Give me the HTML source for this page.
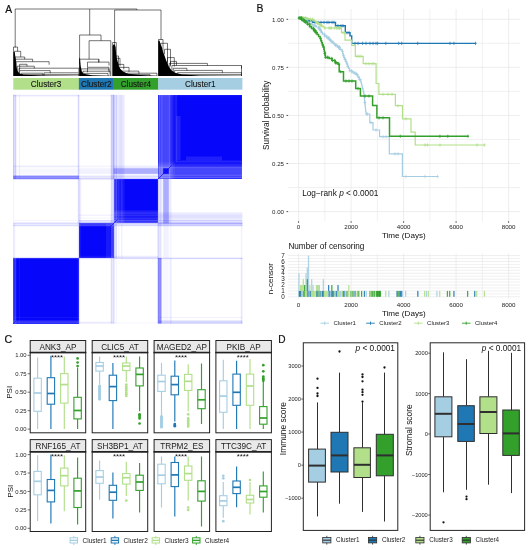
<!DOCTYPE html>
<html lang="en"><head><meta charset="utf-8"><title>Figure</title>
<style>
html,body{margin:0;padding:0;background:#fff;}
body{width:531px;height:550px;overflow:hidden;}
svg{display:block;font-family:"Liberation Sans",sans-serif;}
</style></head><body>
<svg width="531" height="550" viewBox="0 0 531 550">
<rect width="531" height="550" fill="#fff"/>
<g id="panelA">
<text x="5.2" y="12.6" font-size="10.3" fill="#111" stroke="#111" stroke-width="0.2">A</text>
<path d="M15.2 9H89.7M89.7 9H137M137 9V10M114.6 10H161M15.2 9V47.5M89.7 9V35M114.6 10V43.7M161 10V39.6M13.5 47H17.6M13.5 47V76M17.6 47V51.3M14.5 51.3H20.7M20.7 51.3V57M14.5 51.3V76M15.1 57H24.7M24.7 57V59.2M15.1 57V63M15.6 59.2H32.6M32.6 59.2V61.7M15.6 59.2V65.2M16.2 61.7H49.1M49.1 61.7V64.7M16.2 61.7V67.7M19.6 64.3H27M27 64.3V66.3M19.6 64.3V70.3M17.3 66.2H34.3M34.3 66.2V68.4M17.3 66.2V72.2M19 68.2H78.9M78.9 68.2V72.2M19 68.2V74.2M19.6 70.6H50.2M50.2 70.6V73.2M19.6 70.6V76M21.3 73.2H42.8M42.8 73.2V75.2M21.3 73.2V76M44 72.8H78.9M78.9 72.8V75.8M44 72.8V76M22 74.6H78.9M78.9 74.6V76M22 74.6V76M79.6 35H101M79.6 35V76M101 35V40.7M89.1 40.7H110.8M89.1 40.7V59.2M110.8 40.7V76M79.6 59.2H98.8M98.8 59.2V62.7M79.6 59.2V64.2M87.5 62.1H109M109 62.1V65.6M87.5 62.1V67.1M87.5 67.3H109M109 67.3V70.8M87.5 67.3V72.3M80.7 68.9H109M109 68.9V72.4M80.7 68.9V73.9M83 71.2H110M110 71.2V74.7M83 71.2V76M84 73.4H108M108 73.4V76M84 73.4V76M98.8 59.2V62.1M112.6 42.5H116.3M112.6 42.5V76M116.3 42.5V58M114.8 56H118.5M118.5 56V65M114.8 56V61M116.3 58.3H120M120 58.3V66.3M116.3 58.3V63.3M117.8 64.4H123.8M123.8 64.4V69.4M117.8 64.4V69.4M119.5 67.4H129M129 67.4V71.9M119.5 67.4V72.4M122 71.1H138.9M138.9 71.1V74.1M122 71.1V76M127 73.2H156.9M156.9 73.2V75.8M127 73.2V76M130 74.6H150M150 74.6V76M130 74.6V76M158.5 39.5H163M158.5 39.5V76M163 39.5V60M160.7 43.3H167.5M167.5 43.3V65.3M160.7 43.3V48.3M164.5 49.3H170.5M170.5 49.3V65.3M164.5 49.3V54.3M167.5 57.6H174.3M174.3 57.6V66.6M167.5 57.6V62.6M170.5 61.4H176.5M176.5 61.4V65.4M170.5 61.4V66.4M169.2 63.4H207.4M207.4 63.4V65.6M169.2 63.4V68.4M171.9 65.5H241.5M241.5 65.5V68.5M171.9 65.5V70.5M173.3 68.3H186.9M186.9 68.3V70.7M173.3 68.3V73.3M174.6 70.4H222.4M222.4 70.4V72.8M174.6 70.4V75.4M177.4 72.7H241.5M241.5 72.7V74.7M177.4 72.7V76M178.8 74.6H241.5M241.5 74.6V76M178.8 74.6V76M241.5 65.5V76" fill="none" stroke="#000" stroke-width="0.55"/>
<polygon points="13.5,52 14.6,52 15.6,58 16.3,66 17.5,71 19.5,73.4 24,74.7 45,75.4 78.9,75.7 78.9,76 13.5,76" fill="#000"/>
<polygon points="79.3,57 80,59 80.7,66 81.7,71.3 83.6,73.8 92,75.2 111,75.7 111,76 79.3,76" fill="#000"/>
<polygon points="112.6,46 114.4,43.5 115.6,47 116.3,56 117.4,60.5 118.6,65 120,68.5 123,71.6 128,73.7 140,75 157.5,75.7 157.5,76 112.6,76" fill="#000"/>
<polygon points="158.3,41 159.5,40.5 160.5,44 162,47.5 163,52 164.5,55.5 166,60 167.5,63.5 169,67 171.5,70.2 175,72.7 182,74.5 200,75.4 241.5,75.7 241.5,76 158.3,76" fill="#000"/>
<rect x="13.3" y="78" width="65.8" height="11.7" fill="#B2DF8A"/>
<text x="46.1" y="86.8" font-size="8.2" fill="#161616" text-anchor="middle" stroke="#161616" stroke-width="0.12">Cluster3</text>
<rect x="78.9" y="78" width="35" height="11.7" fill="#1F78B4"/>
<text x="96.3" y="86.8" font-size="8.2" fill="#161616" text-anchor="middle" stroke="#161616" stroke-width="0.12">Cluster2</text>
<rect x="113.7" y="78" width="44.7" height="11.7" fill="#33A02C"/>
<text x="135.95" y="86.8" font-size="8.2" fill="#161616" text-anchor="middle" stroke="#161616" stroke-width="0.12">Cluster4</text>
<rect x="158.2" y="78" width="84.2" height="11.7" fill="#A6CEE3"/>
<text x="200.3" y="86.8" font-size="8.2" fill="#161616" text-anchor="middle" stroke="#161616" stroke-width="0.12">Cluster1</text>
<g shape-rendering="crispEdges">
<rect x="13.3" y="94.8" width="229.1" height="228.7" fill="#fff"/>
<rect x="158.2" y="94.8" width="84.2" height="84.05" fill="#0606fb" fill-opacity="1"/>
<rect x="78.9" y="223.28" width="34.8" height="34.74" fill="#0606fb" fill-opacity="1"/>
<rect x="13.3" y="258.01" width="65.6" height="65.49" fill="#0606fb" fill-opacity="1"/>
<rect x="113.7" y="178.85" width="44.5" height="44.42" fill="#0606fb" fill-opacity="1"/>
</g>
<rect x="158.2" y="94.8" width="1" height="84.05" fill="#fff" fill-opacity="0.2"/>
<rect x="158.2" y="177.85" width="84.2" height="1" fill="#fff" fill-opacity="0.2"/>
<rect x="159.2" y="94.8" width="1" height="84.05" fill="#fff" fill-opacity="0.38"/>
<rect x="158.2" y="176.86" width="84.2" height="1" fill="#fff" fill-opacity="0.38"/>
<rect x="160.2" y="94.8" width="1.2" height="84.05" fill="#fff" fill-opacity="0.24"/>
<rect x="158.2" y="175.66" width="84.2" height="1.2" fill="#fff" fill-opacity="0.24"/>
<rect x="161.4" y="94.8" width="1" height="84.05" fill="#fff" fill-opacity="0.42"/>
<rect x="158.2" y="174.66" width="84.2" height="1" fill="#fff" fill-opacity="0.42"/>
<rect x="162.4" y="94.8" width="0.8" height="84.05" fill="#fff" fill-opacity="0.28"/>
<rect x="158.2" y="173.86" width="84.2" height="0.8" fill="#fff" fill-opacity="0.28"/>
<rect x="163.2" y="94.8" width="5.6" height="84.05" fill="#fff" fill-opacity="0.26"/>
<rect x="158.2" y="168.27" width="84.2" height="5.59" fill="#fff" fill-opacity="0.26"/>
<rect x="168.8" y="94.8" width="1" height="84.05" fill="#fff" fill-opacity="0.4"/>
<rect x="158.2" y="167.27" width="84.2" height="1" fill="#fff" fill-opacity="0.4"/>
<rect x="169.8" y="94.8" width="1.7" height="84.05" fill="#fff" fill-opacity="0.2"/>
<rect x="158.2" y="165.58" width="84.2" height="1.7" fill="#fff" fill-opacity="0.2"/>
<rect x="171.5" y="94.8" width="1.9" height="84.05" fill="#fff" fill-opacity="0.12"/>
<rect x="158.2" y="163.68" width="84.2" height="1.9" fill="#fff" fill-opacity="0.12"/>
<rect x="173.4" y="94.8" width="1.8" height="84.05" fill="#fff" fill-opacity="0.05"/>
<rect x="158.2" y="161.88" width="84.2" height="1.8" fill="#fff" fill-opacity="0.05"/>
<rect x="240.8" y="94.8" width="1.6" height="84.05" fill="#fff" fill-opacity="0.05"/>
<rect x="158.2" y="94.8" width="84.2" height="1.6" fill="#fff" fill-opacity="0.05"/>
<rect x="78.9" y="223.28" width="1.1" height="34.74" fill="#fff" fill-opacity="0.12"/>
<rect x="78.9" y="256.92" width="34.8" height="1.1" fill="#fff" fill-opacity="0.12"/>
<rect x="80" y="223.28" width="1.2" height="34.74" fill="#fff" fill-opacity="0.05"/>
<rect x="78.9" y="255.72" width="34.8" height="1.2" fill="#fff" fill-opacity="0.05"/>
<rect x="110.8" y="223.28" width="0.9" height="34.74" fill="#fff" fill-opacity="0.28"/>
<rect x="78.9" y="225.27" width="34.8" height="0.9" fill="#fff" fill-opacity="0.28"/>
<rect x="111.7" y="223.28" width="1" height="34.74" fill="#fff" fill-opacity="0.16"/>
<rect x="78.9" y="224.27" width="34.8" height="1" fill="#fff" fill-opacity="0.16"/>
<rect x="112.7" y="223.28" width="1" height="34.74" fill="#fff" fill-opacity="0.4"/>
<rect x="78.9" y="223.28" width="34.8" height="1" fill="#fff" fill-opacity="0.4"/>
<rect x="13.3" y="258.01" width="0.9" height="65.49" fill="#fff" fill-opacity="0.34"/>
<rect x="13.3" y="322.6" width="65.6" height="0.9" fill="#fff" fill-opacity="0.34"/>
<rect x="14.2" y="258.01" width="1" height="65.49" fill="#fff" fill-opacity="0.12"/>
<rect x="13.3" y="321.6" width="65.6" height="1" fill="#fff" fill-opacity="0.12"/>
<rect x="15.2" y="258.01" width="1" height="65.49" fill="#fff" fill-opacity="0.24"/>
<rect x="13.3" y="320.61" width="65.6" height="1" fill="#fff" fill-opacity="0.24"/>
<rect x="19" y="258.01" width="0.8" height="65.49" fill="#fff" fill-opacity="0.08"/>
<rect x="13.3" y="317.01" width="65.6" height="0.8" fill="#fff" fill-opacity="0.08"/>
<rect x="77.8" y="258.01" width="1.1" height="65.49" fill="#fff" fill-opacity="0.16"/>
<rect x="13.3" y="258.01" width="65.6" height="1.1" fill="#fff" fill-opacity="0.16"/>
<rect x="113.7" y="178.85" width="1" height="44.42" fill="#fff" fill-opacity="0.34"/>
<rect x="113.7" y="222.28" width="44.5" height="1" fill="#fff" fill-opacity="0.34"/>
<rect x="114.7" y="178.85" width="1.1" height="44.42" fill="#fff" fill-opacity="0.18"/>
<rect x="113.7" y="221.18" width="44.5" height="1.1" fill="#fff" fill-opacity="0.18"/>
<rect x="115.8" y="178.85" width="1.1" height="44.42" fill="#fff" fill-opacity="0.3"/>
<rect x="113.7" y="220.08" width="44.5" height="1.1" fill="#fff" fill-opacity="0.3"/>
<rect x="116.9" y="178.85" width="1.5" height="44.42" fill="#fff" fill-opacity="0.12"/>
<rect x="113.7" y="218.58" width="44.5" height="1.5" fill="#fff" fill-opacity="0.12"/>
<rect x="118.4" y="178.85" width="0.9" height="44.42" fill="#fff" fill-opacity="0.2"/>
<rect x="113.7" y="217.69" width="44.5" height="0.9" fill="#fff" fill-opacity="0.2"/>
<rect x="119.3" y="178.85" width="1.7" height="44.42" fill="#fff" fill-opacity="0.08"/>
<rect x="113.7" y="215.99" width="44.5" height="1.7" fill="#fff" fill-opacity="0.08"/>
<rect x="121" y="178.85" width="1.5" height="44.42" fill="#fff" fill-opacity="0.16"/>
<rect x="113.7" y="214.49" width="44.5" height="1.5" fill="#fff" fill-opacity="0.16"/>
<rect x="122.5" y="178.85" width="2.1" height="44.42" fill="#fff" fill-opacity="0.07"/>
<rect x="113.7" y="212.39" width="44.5" height="2.1" fill="#fff" fill-opacity="0.07"/>
<rect x="157" y="178.85" width="1.2" height="44.42" fill="#fff" fill-opacity="0.07"/>
<rect x="113.7" y="178.85" width="44.5" height="1.2" fill="#fff" fill-opacity="0.07"/>
<rect x="163.2" y="168.27" width="5.6" height="5.59" fill="#0606fb" fill-opacity="0.92"/>
<rect x="176" y="116" width="4.5" height="44" fill="#fff" fill-opacity="0.1"/>
<rect x="186" y="156.5" width="36" height="4" fill="#fff" fill-opacity="0.1"/>
<rect x="176" y="160.5" width="66.5" height="1.7" fill="#fff" fill-opacity="0.12"/>
<rect x="175.2" y="94.5" width="2" height="67.5" fill="#fff" fill-opacity="0.1"/>
<rect x="113.7" y="210.5" width="44.5" height="3.5" fill="#fff" fill-opacity="0.1"/>
<rect x="106" y="223.28" width="4" height="34.74" fill="#fff" fill-opacity="0.08"/>
<rect x="158.2" y="178.85" width="1" height="44.42" fill="#0606fb" fill-opacity="0.22"/>
<rect x="113.7" y="177.85" width="44.5" height="1" fill="#0606fb" fill-opacity="0.22"/>
<rect x="158.2" y="223.28" width="1" height="34.74" fill="#0606fb" fill-opacity="0.18"/>
<rect x="78.9" y="177.85" width="34.8" height="1" fill="#0606fb" fill-opacity="0.18"/>
<rect x="158.2" y="258.01" width="1" height="65.49" fill="#0606fb" fill-opacity="0.6"/>
<rect x="13.3" y="177.85" width="65.6" height="1" fill="#0606fb" fill-opacity="0.6"/>
<rect x="159.2" y="178.85" width="1" height="44.42" fill="#0606fb" fill-opacity="0.08"/>
<rect x="113.7" y="176.86" width="44.5" height="1" fill="#0606fb" fill-opacity="0.08"/>
<rect x="159.2" y="223.28" width="1" height="34.74" fill="#0606fb" fill-opacity="0.08"/>
<rect x="78.9" y="176.86" width="34.8" height="1" fill="#0606fb" fill-opacity="0.08"/>
<rect x="159.2" y="258.01" width="1" height="65.49" fill="#0606fb" fill-opacity="0.45"/>
<rect x="13.3" y="176.86" width="65.6" height="1" fill="#0606fb" fill-opacity="0.45"/>
<rect x="160.2" y="178.85" width="1.2" height="44.42" fill="#0606fb" fill-opacity="0.16"/>
<rect x="113.7" y="175.66" width="44.5" height="1.2" fill="#0606fb" fill-opacity="0.16"/>
<rect x="160.2" y="223.28" width="1.2" height="34.74" fill="#0606fb" fill-opacity="0.12"/>
<rect x="78.9" y="175.66" width="34.8" height="1.2" fill="#0606fb" fill-opacity="0.12"/>
<rect x="160.2" y="258.01" width="1.2" height="65.49" fill="#0606fb" fill-opacity="0.52"/>
<rect x="13.3" y="175.66" width="65.6" height="1.2" fill="#0606fb" fill-opacity="0.52"/>
<rect x="161.4" y="178.85" width="1" height="44.42" fill="#0606fb" fill-opacity="0.05"/>
<rect x="113.7" y="174.66" width="44.5" height="1" fill="#0606fb" fill-opacity="0.05"/>
<rect x="161.4" y="258.01" width="1" height="65.49" fill="#0606fb" fill-opacity="0.06"/>
<rect x="13.3" y="174.66" width="65.6" height="1" fill="#0606fb" fill-opacity="0.06"/>
<rect x="162.4" y="178.85" width="0.8" height="44.42" fill="#0606fb" fill-opacity="0.05"/>
<rect x="113.7" y="173.86" width="44.5" height="0.8" fill="#0606fb" fill-opacity="0.05"/>
<rect x="163.2" y="178.85" width="5.6" height="44.42" fill="#0606fb" fill-opacity="0.33"/>
<rect x="113.7" y="168.27" width="44.5" height="5.59" fill="#0606fb" fill-opacity="0.33"/>
<rect x="163.2" y="223.28" width="5.6" height="34.74" fill="#0606fb" fill-opacity="0.05"/>
<rect x="78.9" y="168.27" width="34.8" height="5.59" fill="#0606fb" fill-opacity="0.05"/>
<rect x="163.2" y="258.01" width="5.6" height="65.49" fill="#0606fb" fill-opacity="0.03"/>
<rect x="13.3" y="168.27" width="65.6" height="5.59" fill="#0606fb" fill-opacity="0.03"/>
<rect x="168.8" y="178.85" width="1" height="44.42" fill="#0606fb" fill-opacity="0.08"/>
<rect x="113.7" y="167.27" width="44.5" height="1" fill="#0606fb" fill-opacity="0.08"/>
<rect x="169.8" y="178.85" width="1.7" height="44.42" fill="#0606fb" fill-opacity="0.07"/>
<rect x="113.7" y="165.58" width="44.5" height="1.7" fill="#0606fb" fill-opacity="0.07"/>
<rect x="169.8" y="258.01" width="1.7" height="65.49" fill="#0606fb" fill-opacity="0.08"/>
<rect x="13.3" y="165.58" width="65.6" height="1.7" fill="#0606fb" fill-opacity="0.08"/>
<rect x="169.8" y="223.28" width="1.7" height="34.74" fill="#0606fb" fill-opacity="0.04"/>
<rect x="78.9" y="165.58" width="34.8" height="1.7" fill="#0606fb" fill-opacity="0.04"/>
<rect x="240.8" y="258.01" width="1.6" height="65.49" fill="#0606fb" fill-opacity="0.1"/>
<rect x="13.3" y="94.8" width="65.6" height="1.6" fill="#0606fb" fill-opacity="0.1"/>
<rect x="240.8" y="223.28" width="1.6" height="34.74" fill="#0606fb" fill-opacity="0.05"/>
<rect x="78.9" y="94.8" width="34.8" height="1.6" fill="#0606fb" fill-opacity="0.05"/>
<rect x="78.9" y="178.85" width="1.1" height="44.42" fill="#0606fb" fill-opacity="0.14"/>
<rect x="113.7" y="256.92" width="44.5" height="1.1" fill="#0606fb" fill-opacity="0.14"/>
<rect x="78.9" y="258.01" width="1.1" height="65.49" fill="#0606fb" fill-opacity="0.1"/>
<rect x="13.3" y="256.92" width="65.6" height="1.1" fill="#0606fb" fill-opacity="0.1"/>
<rect x="78.9" y="94.8" width="1.1" height="84.05" fill="#0606fb" fill-opacity="0.05"/>
<rect x="158.2" y="256.92" width="84.2" height="1.1" fill="#0606fb" fill-opacity="0.05"/>
<rect x="80" y="178.85" width="1.2" height="44.42" fill="#0606fb" fill-opacity="0.07"/>
<rect x="113.7" y="255.72" width="44.5" height="1.2" fill="#0606fb" fill-opacity="0.07"/>
<rect x="110.8" y="178.85" width="0.9" height="44.42" fill="#0606fb" fill-opacity="0.18"/>
<rect x="113.7" y="225.27" width="44.5" height="0.9" fill="#0606fb" fill-opacity="0.18"/>
<rect x="110.8" y="258.01" width="0.9" height="65.49" fill="#0606fb" fill-opacity="0.18"/>
<rect x="13.3" y="225.27" width="65.6" height="0.9" fill="#0606fb" fill-opacity="0.18"/>
<rect x="110.8" y="94.8" width="0.9" height="84.05" fill="#0606fb" fill-opacity="0.26"/>
<rect x="158.2" y="225.27" width="84.2" height="0.9" fill="#0606fb" fill-opacity="0.26"/>
<rect x="111.7" y="178.85" width="1" height="44.42" fill="#0606fb" fill-opacity="0.08"/>
<rect x="113.7" y="224.27" width="44.5" height="1" fill="#0606fb" fill-opacity="0.08"/>
<rect x="111.7" y="94.8" width="1" height="84.05" fill="#0606fb" fill-opacity="0.12"/>
<rect x="158.2" y="224.27" width="84.2" height="1" fill="#0606fb" fill-opacity="0.12"/>
<rect x="111.7" y="258.01" width="1" height="65.49" fill="#0606fb" fill-opacity="0.05"/>
<rect x="13.3" y="224.27" width="65.6" height="1" fill="#0606fb" fill-opacity="0.05"/>
<rect x="112.7" y="178.85" width="1" height="44.42" fill="#0606fb" fill-opacity="0.28"/>
<rect x="113.7" y="223.28" width="44.5" height="1" fill="#0606fb" fill-opacity="0.28"/>
<rect x="112.7" y="94.8" width="1" height="84.05" fill="#0606fb" fill-opacity="0.38"/>
<rect x="158.2" y="223.28" width="84.2" height="1" fill="#0606fb" fill-opacity="0.38"/>
<rect x="112.7" y="258.01" width="1" height="65.49" fill="#0606fb" fill-opacity="0.16"/>
<rect x="13.3" y="223.28" width="65.6" height="1" fill="#0606fb" fill-opacity="0.16"/>
<rect x="13.3" y="94.8" width="0.9" height="84.05" fill="#0606fb" fill-opacity="0.3"/>
<rect x="158.2" y="322.6" width="84.2" height="0.9" fill="#0606fb" fill-opacity="0.3"/>
<rect x="13.3" y="223.28" width="0.9" height="34.74" fill="#0606fb" fill-opacity="0.12"/>
<rect x="78.9" y="322.6" width="34.8" height="0.9" fill="#0606fb" fill-opacity="0.12"/>
<rect x="13.3" y="178.85" width="0.9" height="44.42" fill="#0606fb" fill-opacity="0.05"/>
<rect x="113.7" y="322.6" width="44.5" height="0.9" fill="#0606fb" fill-opacity="0.05"/>
<rect x="14.2" y="94.8" width="1" height="84.05" fill="#0606fb" fill-opacity="0.1"/>
<rect x="158.2" y="321.6" width="84.2" height="1" fill="#0606fb" fill-opacity="0.1"/>
<rect x="14.2" y="223.28" width="1" height="34.74" fill="#0606fb" fill-opacity="0.06"/>
<rect x="78.9" y="321.6" width="34.8" height="1" fill="#0606fb" fill-opacity="0.06"/>
<rect x="15.2" y="94.8" width="1" height="84.05" fill="#0606fb" fill-opacity="0.2"/>
<rect x="158.2" y="320.61" width="84.2" height="1" fill="#0606fb" fill-opacity="0.2"/>
<rect x="19" y="94.8" width="0.8" height="84.05" fill="#0606fb" fill-opacity="0.08"/>
<rect x="158.2" y="317.01" width="84.2" height="0.8" fill="#0606fb" fill-opacity="0.08"/>
<rect x="77.8" y="94.8" width="1.1" height="84.05" fill="#0606fb" fill-opacity="0.18"/>
<rect x="158.2" y="258.01" width="84.2" height="1.1" fill="#0606fb" fill-opacity="0.18"/>
<rect x="77.8" y="178.85" width="1.1" height="44.42" fill="#0606fb" fill-opacity="0.15"/>
<rect x="113.7" y="258.01" width="44.5" height="1.1" fill="#0606fb" fill-opacity="0.15"/>
<rect x="77.8" y="223.28" width="1.1" height="34.74" fill="#0606fb" fill-opacity="0.12"/>
<rect x="78.9" y="258.01" width="34.8" height="1.1" fill="#0606fb" fill-opacity="0.12"/>
<rect x="113.7" y="223.28" width="1" height="34.74" fill="#0606fb" fill-opacity="0.26"/>
<rect x="78.9" y="222.28" width="34.8" height="1" fill="#0606fb" fill-opacity="0.26"/>
<rect x="113.7" y="258.01" width="1" height="65.49" fill="#0606fb" fill-opacity="0.1"/>
<rect x="13.3" y="222.28" width="65.6" height="1" fill="#0606fb" fill-opacity="0.1"/>
<rect x="113.7" y="94.8" width="1" height="84.05" fill="#0606fb" fill-opacity="0.26"/>
<rect x="158.2" y="222.28" width="84.2" height="1" fill="#0606fb" fill-opacity="0.26"/>
<rect x="114.7" y="223.28" width="1.1" height="34.74" fill="#0606fb" fill-opacity="0.1"/>
<rect x="78.9" y="221.18" width="34.8" height="1.1" fill="#0606fb" fill-opacity="0.1"/>
<rect x="114.7" y="94.8" width="1.1" height="84.05" fill="#0606fb" fill-opacity="0.1"/>
<rect x="158.2" y="221.18" width="84.2" height="1.1" fill="#0606fb" fill-opacity="0.1"/>
<rect x="115.8" y="223.28" width="1.1" height="34.74" fill="#0606fb" fill-opacity="0.16"/>
<rect x="78.9" y="220.08" width="34.8" height="1.1" fill="#0606fb" fill-opacity="0.16"/>
<rect x="115.8" y="94.8" width="1.1" height="84.05" fill="#0606fb" fill-opacity="0.2"/>
<rect x="158.2" y="220.08" width="84.2" height="1.1" fill="#0606fb" fill-opacity="0.2"/>
<rect x="115.8" y="258.01" width="1.1" height="65.49" fill="#0606fb" fill-opacity="0.04"/>
<rect x="13.3" y="220.08" width="65.6" height="1.1" fill="#0606fb" fill-opacity="0.04"/>
<rect x="116.9" y="94.8" width="1.5" height="84.05" fill="#0606fb" fill-opacity="0.08"/>
<rect x="158.2" y="218.58" width="84.2" height="1.5" fill="#0606fb" fill-opacity="0.08"/>
<rect x="118.4" y="94.8" width="0.9" height="84.05" fill="#0606fb" fill-opacity="0.1"/>
<rect x="158.2" y="217.69" width="84.2" height="0.9" fill="#0606fb" fill-opacity="0.1"/>
<rect x="118.4" y="223.28" width="0.9" height="34.74" fill="#0606fb" fill-opacity="0.06"/>
<rect x="78.9" y="217.69" width="34.8" height="0.9" fill="#0606fb" fill-opacity="0.06"/>
<rect x="119.3" y="94.8" width="1.7" height="84.05" fill="#0606fb" fill-opacity="0.12"/>
<rect x="158.2" y="215.99" width="84.2" height="1.7" fill="#0606fb" fill-opacity="0.12"/>
<rect x="121" y="94.8" width="1.5" height="84.05" fill="#0606fb" fill-opacity="0.12"/>
<rect x="158.2" y="214.49" width="84.2" height="1.5" fill="#0606fb" fill-opacity="0.12"/>
<rect x="121" y="223.28" width="1.5" height="34.74" fill="#0606fb" fill-opacity="0.05"/>
<rect x="78.9" y="214.49" width="34.8" height="1.5" fill="#0606fb" fill-opacity="0.05"/>
<rect x="122.5" y="94.8" width="2.1" height="84.05" fill="#0606fb" fill-opacity="0.08"/>
<rect x="158.2" y="212.39" width="84.2" height="2.1" fill="#0606fb" fill-opacity="0.08"/>
<rect x="157" y="258.01" width="1.2" height="65.49" fill="#0606fb" fill-opacity="0.12"/>
<rect x="13.3" y="178.85" width="65.6" height="1.2" fill="#0606fb" fill-opacity="0.12"/>
<rect x="157" y="223.28" width="1.2" height="34.74" fill="#0606fb" fill-opacity="0.08"/>
<rect x="78.9" y="178.85" width="34.8" height="1.2" fill="#0606fb" fill-opacity="0.08"/>
<line x1="158.2" y1="178.85" x2="171.5" y2="165.58" stroke="#0606fb" stroke-width="0.9" stroke-opacity=".8"/>
<line x1="113.7" y1="223.28" x2="117" y2="219.98" stroke="#0606fb" stroke-width="0.9" stroke-opacity=".8"/>
<line x1="110.8" y1="226.17" x2="113.7" y2="223.28" stroke="#0606fb" stroke-width="0.9" stroke-opacity=".8"/>
<line x1="13.3" y1="323.5" x2="16.2" y2="320.61" stroke="#0606fb" stroke-width="0.9" stroke-opacity=".8"/>
</g>
<g id="panelB">
<text x="256.5" y="12.4" font-size="10.4" fill="#111" stroke="#111" stroke-width="0.2">B</text>
<path d="M324.85 8.98V221.22M377.35 8.98V221.22M429.85 8.98V221.22M482.35 8.98V221.22M288.1 187.56H520M288.1 139.49H520M288.1 91.41H520M288.1 43.34H520" stroke="#eaeaea" stroke-width="0.65" fill="none"/>
<path d="M298.6 8.98V221.22M351.1 8.98V221.22M403.6 8.98V221.22M456.1 8.98V221.22M508.6 8.98V221.22M288.1 211.6H520M288.1 163.52H520M288.1 115.45H520M288.1 67.37H520M288.1 19.3H520" stroke="#e6e6e6" stroke-width="0.7" fill="none"/>
<text x="284" y="213.9" font-size="6.15" fill="#222" text-anchor="end">0.00</text>
<text x="284" y="165.82" font-size="6.15" fill="#222" text-anchor="end">0.25</text>
<text x="284" y="117.75" font-size="6.15" fill="#222" text-anchor="end">0.50</text>
<text x="284" y="69.67" font-size="6.15" fill="#222" text-anchor="end">0.75</text>
<text x="284" y="21.6" font-size="6.15" fill="#222" text-anchor="end">1.00</text>
<text x="298.6" y="229.22" font-size="6.2" fill="#222" text-anchor="middle">0</text>
<text x="351.1" y="229.22" font-size="6.2" fill="#222" text-anchor="middle">2000</text>
<text x="403.6" y="229.22" font-size="6.2" fill="#222" text-anchor="middle">4000</text>
<text x="456.1" y="229.22" font-size="6.2" fill="#222" text-anchor="middle">6000</text>
<text x="508.6" y="229.22" font-size="6.2" fill="#222" text-anchor="middle">8000</text>
<path d="M286.5 211.6H288.1M286.5 163.52H288.1M286.5 115.45H288.1M286.5 67.37H288.1M286.5 19.3H288.1M298.6 221.22V222.81M351.1 221.22V222.81M403.6 221.22V222.81M456.1 221.22V222.81M508.6 221.22V222.81" stroke="#222" stroke-width="0.8" fill="none"/>
<text x="403.8" y="237.6" font-size="8.1" fill="#111" text-anchor="middle">Time (Days)</text>
<text x="268.6" y="115.3" font-size="8.25" fill="#111" text-anchor="middle" transform="rotate(-90 268.6 115.3)">Survival probability</text>
<text x="302.2" y="196" font-size="8.25" fill="#111">Log−rank <tspan font-style="italic">p</tspan> &lt; 0.0001</text>
<path d="M298.6 18H301.3V18.8H304V19.6H306.8V21.6H309.6V23.6H311.85V24.73H314.1V25.85H316.35V26.98H318.6V28.1H319.87V30.1H321.13V32.1H322.4V34.1H324.67V36.1H326.93V38.1H329.2V40.1H331.2V41.87H333.2V43.63H335.2V45.4H337.47V47.4H339.73V49.4H342V51.4H342.62V53.42H343.25V55.45H343.88V57.48H344.5V59.5H345.5V61.74H346.5V63.98H347.5V66.22H348.5V68.46H349.5V70.7H351.7V71.97H353.9V73.23H356.1V74.5H357.67V77H359.23V79.5H360.8V82H361.38V84.26H361.96V86.52H362.54V88.78H363.12V91.04H363.7V93.3H363.96V95.6H364.21V97.9H364.47V100.2H364.72V102.5H364.98V104.8H365.23V107.1H365.49V109.4H365.74V111.7H366V114H369.8V122.6H373V130H379.6V136.7H389.3V153.8H402.4V176.5H437.6" fill="none" stroke="#A6CEE3" stroke-width="1.2" stroke-linejoin="miter"/>
<path d="M321.27 30.4V33.8M319.97 32.1H322.57M309.16 19.9V23.3M307.86 21.6H310.46M344.17 55.77V59.18M342.87 57.48H345.47M303.67 17.1V20.5M302.37 18.8H304.97M336.11 43.7V47.1M334.81 45.4H337.41M324.2 32.4V35.8M322.9 34.1H325.5M302.66 17.1V20.5M301.36 18.8H303.96M334.12 41.93V45.33M332.82 43.63H335.42M301.22 16.3V19.7M299.92 18H302.52M328.96 36.4V39.8M327.66 38.1H330.26M303.49 17.1V20.5M302.19 18.8H304.79M304.95 17.9V21.3M303.65 19.6H306.25M328.32 36.4V39.8M327.02 38.1H329.62M356.48 72.8V76.2M355.18 74.5H357.78M307.27 19.9V23.3M305.97 21.6H308.57M314.23 24.15V27.55M312.93 25.85H315.53M342.52 49.7V53.1M341.22 51.4H343.82M364.94 100.8V104.2M363.64 102.5H366.24M339 45.7V49.1M337.7 47.4H340.3M326.37 34.4V37.8M325.07 36.1H327.67M366.94 112.3V115.7M365.64 114H368.24M301.86 17.1V20.5M300.56 18.8H303.16M358.69 75.3V78.7M357.39 77H359.99M318.87 26.4V29.8M317.57 28.1H320.17M308.7 19.9V23.3M307.4 21.6H310M306.85 19.9V23.3M305.55 21.6H308.15M320.19 28.4V31.8M318.89 30.1H321.49M355.73 71.53V74.93M354.43 73.23H357.03M311.25 21.9V25.3M309.95 23.6H312.55M339.31 45.7V49.1M338.01 47.4H340.61M343.32 53.75V57.15M342.02 55.45H344.62M324.67 34.4V37.8M323.37 36.1H325.97M336.94 43.7V47.1M335.64 45.4H338.24M303 17.1V20.5M301.7 18.8H304.3M302.77 17.1V20.5M301.47 18.8H304.07M313.02 23.03V26.43M311.72 24.73H314.32M346.23 60.04V63.44M344.93 61.74H347.53M328.53 36.4V39.8M327.23 38.1H329.83M320.59 28.4V31.8M319.29 30.1H321.89M339.59 45.7V49.1M338.29 47.4H340.89M330.32 38.4V41.8M329.02 40.1H331.62M319.58 26.4V29.8M318.28 28.1H320.88M354.21 71.53V74.93M352.91 73.23H355.51M347.53 64.52V67.92M346.23 66.22H348.83M315.69 24.15V27.55M314.39 25.85H316.99M338.81 45.7V49.1M337.51 47.4H340.11M335.36 43.7V47.1M334.06 45.4H336.66M359.86 77.8V81.2M358.56 79.5H361.16M349.66 69V72.4M348.36 70.7H350.96M318.76 26.4V29.8M317.46 28.1H320.06M367.21 112.3V115.7M365.91 114H368.51M306.86 19.9V23.3M305.56 21.6H308.16M327.87 36.4V39.8M326.57 38.1H329.17M351.6 69V72.4M350.3 70.7H352.9M309.24 19.9V23.3M307.94 21.6H310.54M332.83 40.17V43.57M331.53 41.87H334.13M301.34 17.1V20.5M300.04 18.8H302.64M345.38 57.8V61.2M344.08 59.5H346.68M352.12 70.27V73.67M350.82 71.97H353.42M338.71 45.7V49.1M337.41 47.4H340.01M359.88 77.8V81.2M358.58 79.5H361.18M320.56 28.4V31.8M319.26 30.1H321.86M347.27 62.28V65.68M345.97 63.98H348.57M340.21 47.7V51.1M338.91 49.4H341.51M339.19 45.7V49.1M337.89 47.4H340.49M330.53 38.4V41.8M329.23 40.1H331.83M357.4 72.8V76.2M356.1 74.5H358.7M364.73 100.8V104.2M363.43 102.5H366.03M331.79 40.17V43.57M330.49 41.87H333.09M345.09 57.8V61.2M343.79 59.5H346.39M371 120.9V124.3M369.7 122.6H372.3M376 128.3V131.7M374.7 130H377.3M383 135V138.4M381.7 136.7H384.3M386 135V138.4M384.7 136.7H387.3M395 152.1V155.5M393.7 153.8H396.3M398 152.1V155.5M396.7 153.8H399.3M406 174.8V178.2M404.7 176.5H407.3M425 174.8V178.2M423.7 176.5H426.3M437.6 174.8V178.2M436.3 176.5H438.9" fill="none" stroke="#A6CEE3" stroke-width="0.7"/>
<path d="M298.6 18H304.5V19.2H307V20H310V20.8H312.8V22.4H335.5V25.8H345.3V32.6H350V35.9H351.7V43.4H475.5" fill="none" stroke="#1F78B4" stroke-width="1.4" stroke-linejoin="miter"/>
<path d="M301 16.3V19.7M299.7 18H302.3M306 17.5V20.9M304.7 19.2H307.3M309 18.3V21.7M307.7 20H310.3M315 20.7V24.1M313.7 22.4H316.3M318 20.7V24.1M316.7 22.4H319.3M321 20.7V24.1M319.7 22.4H322.3M324 20.7V24.1M322.7 22.4H325.3M327 20.7V24.1M325.7 22.4H328.3M329 20.7V24.1M327.7 22.4H330.3M332 20.7V24.1M330.7 22.4H333.3M334 20.7V24.1M332.7 22.4H335.3M338 24.1V27.5M336.7 25.8H339.3M341 24.1V27.5M339.7 25.8H342.3M343 24.1V27.5M341.7 25.8H344.3M347 30.9V34.3M345.7 32.6H348.3M349 30.9V34.3M347.7 32.6H350.3M355 41.7V45.1M353.7 43.4H356.3M358 41.7V45.1M356.7 43.4H359.3M362.6 41.7V45.1M361.3 43.4H363.9M366 41.7V45.1M364.7 43.4H367.3M370 41.7V45.1M368.7 43.4H371.3M373 41.7V45.1M371.7 43.4H374.3M376 41.7V45.1M374.7 43.4H377.3M377.6 41.7V45.1M376.3 43.4H378.9M385.8 41.7V45.1M384.5 43.4H387.1M398.7 41.7V45.1M397.4 43.4H400M401.7 41.7V45.1M400.4 43.4H403M417.7 41.7V45.1M416.4 43.4H419M450 41.7V45.1M448.7 43.4H451.3M453.9 41.7V45.1M452.6 43.4H455.2M475.5 41.7V45.1M474.2 43.4H476.8" fill="none" stroke="#1F78B4" stroke-width="0.7"/>
<path d="M298.6 18H306V18.9H310V19.5H314.1V21H315.6V22H317.1V23H318.6V24H320.1V25H321.6V26H323.1V27H324.6V28H341.5V32.6H345V40.1H351.7V45.4H355.3V56.4H363.2V63.6H376.1V83.5H378.9V94.3H395.4V105.6H402.5V118.8H411V132.2H415.2V145H485.1" fill="none" stroke="#B2DF8A" stroke-width="1.2" stroke-linejoin="miter"/>
<path d="M302.73 16.3V19.7M301.43 18H304.03M331.57 26.3V29.7M330.27 28H332.87M329.12 26.3V29.7M327.82 28H330.42M344.69 30.9V34.3M343.39 32.6H345.99M336.99 26.3V29.7M335.69 28H338.29M312.81 17.8V21.2M311.51 19.5H314.11M317.36 21.3V24.7M316.06 23H318.66M330.09 26.3V29.7M328.79 28H331.39M301.02 16.3V19.7M299.72 18H302.32M320.78 23.3V26.7M319.48 25H322.08M307.56 17.2V20.6M306.26 18.9H308.86M305.27 16.3V19.7M303.97 18H306.57M302.65 16.3V19.7M301.35 18H303.95M334.57 26.3V29.7M333.27 28H335.87M305.82 16.3V19.7M304.52 18H307.12M311.14 17.8V21.2M309.84 19.5H312.44M317.59 21.3V24.7M316.29 23H318.89M339.21 26.3V29.7M337.91 28H340.51M303.63 16.3V19.7M302.33 18H304.93M320.21 23.3V26.7M318.91 25H321.51M324.72 26.3V29.7M323.42 28H326.02M339.75 26.3V29.7M338.45 28H341.05M336.87 26.3V29.7M335.57 28H338.17M338.88 26.3V29.7M337.58 28H340.18M312.53 17.8V21.2M311.23 19.5H313.83M318.69 22.3V25.7M317.39 24H319.99M316.14 20.3V23.7M314.84 22H317.44M339.79 26.3V29.7M338.49 28H341.09M343.1 30.9V34.3M341.8 32.6H344.4M306.79 17.2V20.6M305.49 18.9H308.09M307.93 17.2V20.6M306.63 18.9H309.23M310.44 17.8V21.2M309.14 19.5H311.74M310.5 17.8V21.2M309.2 19.5H311.8M321.82 24.3V27.7M320.52 26H323.12M357 54.7V58.1M355.7 56.4H358.3M359 54.7V58.1M357.7 56.4H360.3M361 54.7V58.1M359.7 56.4H362.3M366 61.9V65.3M364.7 63.6H367.3M369 61.9V65.3M367.7 63.6H370.3M372 61.9V65.3M370.7 63.6H373.3M374 61.9V65.3M372.7 63.6H375.3M383 92.6V96M381.7 94.3H384.3M388 92.6V96M386.7 94.3H389.3M392 92.6V96M390.7 94.3H393.3M398 103.9V107.3M396.7 105.6H399.3M406 117.1V120.5M404.7 118.8H407.3M425 143.3V146.7M423.7 145H426.3M427.5 143.3V146.7M426.2 145H428.8M440 143.3V146.7M438.7 145H441.3M477 143.3V146.7M475.7 145H478.3M484.4 143.3V146.7M483.1 145H485.7" fill="none" stroke="#B2DF8A" stroke-width="0.7"/>
<path d="M298.6 18H301.5V19.5H303.3V20.75H305.1V22H307.35V24.3H309.6V26.6H311.6V28.6H313.6V30.6H315.6V32.6H317.1V34.6H318.6V36.6H320.1V38.6H320.86V40.72H321.62V42.84H322.38V44.96H323.14V47.08H323.9V49.2H324.27V51.25H324.65V53.3H325.02V55.35H325.4V57.4H329.2V58.4H332V60.4H335.2V62.7H338V64.2H339.2V71.7H343.5V81H355.7V88.6H360.4V96.1H372.6V105.6H376.9V117.8H389.5V136.3H468.6" fill="none" stroke="#33A02C" stroke-width="1.5" stroke-linejoin="miter"/>
<path d="M323.74 45.38V48.78M322.44 47.08H325.04M310.04 24.9V28.3M308.74 26.6H311.34M299.17 16.3V19.7M297.87 18H300.47M316.6 30.9V34.3M315.3 32.6H317.9M314.51 28.9V32.3M313.21 30.6H315.81M322.79 43.26V46.66M321.49 44.96H324.09M339.03 62.5V65.9M337.73 64.2H340.33M328 55.7V59.1M326.7 57.4H329.3M320.65 36.9V40.3M319.35 38.6H321.95M324.94 51.6V55M323.64 53.3H326.24M327.4 55.7V59.1M326.1 57.4H328.7M301.27 16.3V19.7M299.97 18H302.57M336.78 61V64.4M335.48 62.7H338.08M331.76 56.7V60.1M330.46 58.4H333.06M335.73 61V64.4M334.43 62.7H337.03M332.51 58.7V62.1M331.21 60.4H333.81M315.48 28.9V32.3M314.18 30.6H316.78M315.76 30.9V34.3M314.46 32.6H317.06M303.35 19.05V22.45M302.05 20.75H304.65M325.64 55.7V59.1M324.34 57.4H326.94M301.61 17.8V21.2M300.31 19.5H302.91M301.83 17.8V21.2M300.53 19.5H303.13M307.77 22.6V26M306.47 24.3H309.07M305.82 20.3V23.7M304.52 22H307.12M313.28 26.9V30.3M311.98 28.6H314.58M301.21 16.3V19.7M299.91 18H302.51M299.01 16.3V19.7M297.71 18H300.31M305.35 20.3V23.7M304.05 22H306.65M303.26 17.8V21.2M301.96 19.5H304.56M314.27 28.9V32.3M312.97 30.6H315.57M300.07 16.3V19.7M298.77 18H301.37M335.72 61V64.4M334.42 62.7H337.02M324.79 51.6V55M323.49 53.3H326.09M305.24 20.3V23.7M303.94 22H306.54M309.59 22.6V26M308.29 24.3H310.89M313.59 26.9V30.3M312.29 28.6H314.89M314.29 28.9V32.3M312.99 30.6H315.59M304.16 19.05V22.45M302.86 20.75H305.46M334.66 58.7V62.1M333.36 60.4H335.96M340.71 70V73.4M339.41 71.7H342.01M346 79.3V82.7M344.7 81H347.3M349 79.3V82.7M347.7 81H350.3M352 79.3V82.7M350.7 81H353.3M358 86.9V90.3M356.7 88.6H359.3M365 94.4V97.8M363.7 96.1H366.3M369 94.4V97.8M367.7 96.1H370.3M379 116.1V119.5M377.7 117.8H380.3M383 116.1V119.5M381.7 117.8H384.3M400.3 134.6V138M399 136.3H401.6M439.9 134.6V138M438.6 136.3H441.2M447.8 134.6V138M446.5 136.3H449.1M468 134.6V138M466.7 136.3H469.3" fill="none" stroke="#33A02C" stroke-width="0.7"/>
<text x="288.4" y="249" font-size="8.2" fill="#111">Number of censoring</text>
<path d="M288.1 293.86H520M288.1 287.98H520M288.1 282.1H520M288.1 276.22H520M288.1 270.34H520M288.1 264.46H520M288.1 258.58H520M324.85 253.58V298.86M377.35 253.58V298.86M429.85 253.58V298.86M482.35 253.58V298.86" stroke="#eaeaea" stroke-width="0.65" fill="none"/>
<path d="M288.1 296.8H520M288.1 290.92H520M288.1 285.04H520M288.1 279.16H520M288.1 273.28H520M288.1 267.4H520M288.1 261.52H520M288.1 255.64H520M298.6 253.58V298.86M351.1 253.58V298.86M403.6 253.58V298.86M456.1 253.58V298.86M508.6 253.58V298.86" stroke="#e6e6e6" stroke-width="0.7" fill="none"/>
<text x="284.7" y="299" font-size="6.3" fill="#222" text-anchor="end">0</text>
<text x="284.7" y="293.12" font-size="6.3" fill="#222" text-anchor="end">1</text>
<text x="284.7" y="287.24" font-size="6.3" fill="#222" text-anchor="end">2</text>
<text x="284.7" y="281.36" font-size="6.3" fill="#222" text-anchor="end">3</text>
<text x="284.7" y="275.48" font-size="6.3" fill="#222" text-anchor="end">4</text>
<text x="284.7" y="269.6" font-size="6.3" fill="#222" text-anchor="end">5</text>
<text x="284.7" y="263.72" font-size="6.3" fill="#222" text-anchor="end">6</text>
<text x="284.7" y="257.84" font-size="6.3" fill="#222" text-anchor="end">7</text>
<text x="298.6" y="306.9" font-size="6.2" fill="#222" text-anchor="middle">0</text>
<text x="351.1" y="306.9" font-size="6.2" fill="#222" text-anchor="middle">2000</text>
<text x="403.6" y="306.9" font-size="6.2" fill="#222" text-anchor="middle">4000</text>
<text x="456.1" y="306.9" font-size="6.2" fill="#222" text-anchor="middle">6000</text>
<text x="508.6" y="306.9" font-size="6.2" fill="#222" text-anchor="middle">8000</text>
<text x="403.8" y="315.6" font-size="8.1" fill="#111" text-anchor="middle">Time (Days)</text>
<text x="272.8" y="278.6" font-size="8" fill="#111" text-anchor="middle" transform="rotate(-90 272.8 278.6)">n-censor</text>
<rect x="307.9" y="255.64" width="1.25" height="41.16" fill="#A6CEE3" fill-opacity=".9"/>
<rect x="306.7" y="267.4" width="1.25" height="29.4" fill="#A6CEE3" fill-opacity=".9"/>
<rect x="298.3" y="273.28" width="1.25" height="23.52" fill="#A6CEE3" fill-opacity=".9"/>
<rect x="305.4" y="273.28" width="1.25" height="23.52" fill="#A6CEE3" fill-opacity=".9"/>
<rect x="302.7" y="279.16" width="1.25" height="17.64" fill="#B2DF8A" fill-opacity=".9"/>
<rect x="306.7" y="279.16" width="1.25" height="17.64" fill="#33A02C" fill-opacity=".9"/>
<rect x="311.1" y="279.16" width="1.25" height="17.64" fill="#A6CEE3" fill-opacity=".9"/>
<rect x="322.7" y="279.16" width="1.25" height="17.64" fill="#A6CEE3" fill-opacity=".9"/>
<rect x="299.8" y="285.04" width="1.25" height="11.76" fill="#B2DF8A" fill-opacity=".9"/>
<rect x="300.8" y="285.04" width="1.25" height="11.76" fill="#B2DF8A" fill-opacity=".9"/>
<rect x="301.7" y="285.04" width="1.25" height="11.76" fill="#B2DF8A" fill-opacity=".9"/>
<rect x="304" y="285.04" width="1.25" height="11.76" fill="#33A02C" fill-opacity=".9"/>
<rect x="309.2" y="285.04" width="1.25" height="11.76" fill="#B2DF8A" fill-opacity=".9"/>
<rect x="312.4" y="285.04" width="1.25" height="11.76" fill="#A6CEE3" fill-opacity=".9"/>
<rect x="315.8" y="285.04" width="1.25" height="11.76" fill="#B2DF8A" fill-opacity=".9"/>
<rect x="316.8" y="285.04" width="1.25" height="11.76" fill="#B2DF8A" fill-opacity=".9"/>
<rect x="317.8" y="285.04" width="1.25" height="11.76" fill="#B2DF8A" fill-opacity=".9"/>
<rect x="318.7" y="285.04" width="1.25" height="11.76" fill="#A6CEE3" fill-opacity=".9"/>
<rect x="328" y="285.04" width="1.25" height="11.76" fill="#1F78B4" fill-opacity=".9"/>
<rect x="331.2" y="285.04" width="1.25" height="11.76" fill="#33A02C" fill-opacity=".9"/>
<rect x="337.4" y="285.04" width="1.25" height="11.76" fill="#1F78B4" fill-opacity=".9"/>
<rect x="348.2" y="285.04" width="1.25" height="11.76" fill="#B2DF8A" fill-opacity=".9"/>
<rect x="298.8" y="290.92" width="1.25" height="5.88" fill="#1F78B4" fill-opacity=".9"/>
<rect x="300.1" y="290.92" width="1.25" height="5.88" fill="#1F78B4" fill-opacity=".9"/>
<rect x="301.2" y="290.92" width="1.25" height="5.88" fill="#A6CEE3" fill-opacity=".9"/>
<rect x="302.2" y="290.92" width="1.25" height="5.88" fill="#A6CEE3" fill-opacity=".9"/>
<rect x="303.3" y="290.92" width="1.25" height="5.88" fill="#33A02C" fill-opacity=".9"/>
<rect x="304.6" y="290.92" width="1.25" height="5.88" fill="#B2DF8A" fill-opacity=".9"/>
<rect x="305.5" y="290.92" width="1.25" height="5.88" fill="#B2DF8A" fill-opacity=".9"/>
<rect x="306.6" y="290.92" width="1.25" height="5.88" fill="#B2DF8A" fill-opacity=".9"/>
<rect x="307.5" y="290.92" width="1.25" height="5.88" fill="#1F78B4" fill-opacity=".9"/>
<rect x="308.6" y="290.92" width="1.25" height="5.88" fill="#A6CEE3" fill-opacity=".9"/>
<rect x="309.7" y="290.92" width="1.25" height="5.88" fill="#1F78B4" fill-opacity=".9"/>
<rect x="310.8" y="290.92" width="1.25" height="5.88" fill="#B2DF8A" fill-opacity=".9"/>
<rect x="311.9" y="290.92" width="1.25" height="5.88" fill="#B2DF8A" fill-opacity=".9"/>
<rect x="313" y="290.92" width="1.25" height="5.88" fill="#B2DF8A" fill-opacity=".9"/>
<rect x="314" y="290.92" width="1.25" height="5.88" fill="#B2DF8A" fill-opacity=".9"/>
<rect x="315.3" y="290.92" width="1.25" height="5.88" fill="#B2DF8A" fill-opacity=".9"/>
<rect x="316.3" y="290.92" width="1.25" height="5.88" fill="#1F78B4" fill-opacity=".9"/>
<rect x="317.6" y="290.92" width="1.25" height="5.88" fill="#33A02C" fill-opacity=".9"/>
<rect x="318.5" y="290.92" width="1.25" height="5.88" fill="#A6CEE3" fill-opacity=".9"/>
<rect x="319.6" y="290.92" width="1.25" height="5.88" fill="#1F78B4" fill-opacity=".9"/>
<rect x="320.7" y="290.92" width="1.25" height="5.88" fill="#B2DF8A" fill-opacity=".9"/>
<rect x="321.8" y="290.92" width="1.25" height="5.88" fill="#1F78B4" fill-opacity=".9"/>
<rect x="322.9" y="290.92" width="1.25" height="5.88" fill="#33A02C" fill-opacity=".9"/>
<rect x="323.8" y="290.92" width="1.25" height="5.88" fill="#B2DF8A" fill-opacity=".9"/>
<rect x="324.7" y="290.92" width="1.25" height="5.88" fill="#B2DF8A" fill-opacity=".9"/>
<rect x="326" y="290.92" width="1.25" height="5.88" fill="#B2DF8A" fill-opacity=".9"/>
<rect x="327.1" y="290.92" width="1.25" height="5.88" fill="#B2DF8A" fill-opacity=".9"/>
<rect x="328.4" y="290.92" width="1.25" height="5.88" fill="#A6CEE3" fill-opacity=".9"/>
<rect x="329.3" y="290.92" width="1.25" height="5.88" fill="#1F78B4" fill-opacity=".9"/>
<rect x="330.4" y="290.92" width="1.25" height="5.88" fill="#A6CEE3" fill-opacity=".9"/>
<rect x="331.3" y="290.92" width="1.25" height="5.88" fill="#33A02C" fill-opacity=".9"/>
<rect x="332.3" y="290.92" width="1.25" height="5.88" fill="#1F78B4" fill-opacity=".9"/>
<rect x="333.3" y="290.92" width="1.25" height="5.88" fill="#33A02C" fill-opacity=".9"/>
<rect x="334.4" y="290.92" width="1.25" height="5.88" fill="#A6CEE3" fill-opacity=".9"/>
<rect x="335.7" y="290.92" width="1.25" height="5.88" fill="#1F78B4" fill-opacity=".9"/>
<rect x="337" y="290.92" width="1.25" height="5.88" fill="#A6CEE3" fill-opacity=".9"/>
<rect x="338" y="290.92" width="1.25" height="5.88" fill="#B2DF8A" fill-opacity=".9"/>
<rect x="339" y="290.92" width="1.25" height="5.88" fill="#A6CEE3" fill-opacity=".9"/>
<rect x="340" y="290.92" width="1.25" height="5.88" fill="#A6CEE3" fill-opacity=".9"/>
<rect x="341.3" y="290.92" width="1.25" height="5.88" fill="#B2DF8A" fill-opacity=".9"/>
<rect x="342.6" y="290.92" width="1.25" height="5.88" fill="#33A02C" fill-opacity=".9"/>
<rect x="343.6" y="290.92" width="1.25" height="5.88" fill="#1F78B4" fill-opacity=".9"/>
<rect x="344.6" y="290.92" width="1.25" height="5.88" fill="#A6CEE3" fill-opacity=".9"/>
<rect x="345.5" y="290.92" width="1.25" height="5.88" fill="#A6CEE3" fill-opacity=".9"/>
<rect x="346.5" y="290.92" width="1.25" height="5.88" fill="#33A02C" fill-opacity=".9"/>
<rect x="347.5" y="290.92" width="1.25" height="5.88" fill="#B2DF8A" fill-opacity=".9"/>
<rect x="350.4" y="290.92" width="1.25" height="5.88" fill="#33A02C" fill-opacity=".9"/>
<rect x="351.4" y="290.92" width="1.25" height="5.88" fill="#B2DF8A" fill-opacity=".9"/>
<rect x="352.4" y="290.92" width="1.25" height="5.88" fill="#33A02C" fill-opacity=".9"/>
<rect x="354.4" y="290.92" width="1.25" height="5.88" fill="#1F78B4" fill-opacity=".9"/>
<rect x="356.4" y="290.92" width="1.25" height="5.88" fill="#B2DF8A" fill-opacity=".9"/>
<rect x="357.6" y="290.92" width="1.25" height="5.88" fill="#33A02C" fill-opacity=".9"/>
<rect x="358.8" y="290.92" width="1.25" height="5.88" fill="#B2DF8A" fill-opacity=".9"/>
<rect x="361" y="290.92" width="1.25" height="5.88" fill="#33A02C" fill-opacity=".9"/>
<rect x="363.8" y="290.92" width="1.25" height="5.88" fill="#1F78B4" fill-opacity=".9"/>
<rect x="365.7" y="290.92" width="1.25" height="5.88" fill="#A6CEE3" fill-opacity=".9"/>
<rect x="369.4" y="290.92" width="1.25" height="5.88" fill="#33A02C" fill-opacity=".9"/>
<rect x="370.4" y="290.92" width="1.25" height="5.88" fill="#B2DF8A" fill-opacity=".9"/>
<rect x="371.4" y="290.92" width="1.25" height="5.88" fill="#33A02C" fill-opacity=".9"/>
<rect x="372.4" y="290.92" width="1.25" height="5.88" fill="#33A02C" fill-opacity=".9"/>
<rect x="374.1" y="290.92" width="1.25" height="5.88" fill="#33A02C" fill-opacity=".9"/>
<rect x="375.1" y="290.92" width="1.25" height="5.88" fill="#B2DF8A" fill-opacity=".9"/>
<rect x="376" y="290.92" width="1.25" height="5.88" fill="#33A02C" fill-opacity=".9"/>
<rect x="377" y="290.92" width="1.25" height="5.88" fill="#1F78B4" fill-opacity=".9"/>
<rect x="378" y="290.92" width="1.25" height="5.88" fill="#33A02C" fill-opacity=".9"/>
<rect x="379" y="290.92" width="1.25" height="5.88" fill="#1F78B4" fill-opacity=".9"/>
<rect x="379.8" y="290.92" width="1.25" height="5.88" fill="#33A02C" fill-opacity=".9"/>
<rect x="385.1" y="290.92" width="1.25" height="5.88" fill="#B2DF8A" fill-opacity=".9"/>
<rect x="388.2" y="290.92" width="1.25" height="5.88" fill="#A6CEE3" fill-opacity=".9"/>
<rect x="396.4" y="290.92" width="1.25" height="5.88" fill="#1F78B4" fill-opacity=".9"/>
<rect x="397.4" y="290.92" width="1.25" height="5.88" fill="#33A02C" fill-opacity=".9"/>
<rect x="398.6" y="290.92" width="1.25" height="5.88" fill="#33A02C" fill-opacity=".9"/>
<rect x="399.9" y="290.92" width="1.25" height="5.88" fill="#1F78B4" fill-opacity=".9"/>
<rect x="400.9" y="290.92" width="1.25" height="5.88" fill="#1F78B4" fill-opacity=".9"/>
<rect x="401.8" y="290.92" width="1.25" height="5.88" fill="#A6CEE3" fill-opacity=".9"/>
<rect x="405" y="290.92" width="1.25" height="5.88" fill="#A6CEE3" fill-opacity=".9"/>
<rect x="417.2" y="290.92" width="1.25" height="5.88" fill="#1F78B4" fill-opacity=".9"/>
<rect x="424" y="290.92" width="1.25" height="5.88" fill="#B2DF8A" fill-opacity=".9"/>
<rect x="425.8" y="290.92" width="1.25" height="5.88" fill="#A6CEE3" fill-opacity=".9"/>
<rect x="427.7" y="290.92" width="1.25" height="5.88" fill="#B2DF8A" fill-opacity=".9"/>
<rect x="436.3" y="290.92" width="1.25" height="5.88" fill="#A6CEE3" fill-opacity=".9"/>
<rect x="439.1" y="290.92" width="1.25" height="5.88" fill="#B2DF8A" fill-opacity=".9"/>
<rect x="446.8" y="290.92" width="1.25" height="5.88" fill="#33A02C" fill-opacity=".9"/>
<rect x="449.1" y="290.92" width="1.25" height="5.88" fill="#33A02C" fill-opacity=".9"/>
<rect x="453.3" y="290.92" width="1.25" height="5.88" fill="#1F78B4" fill-opacity=".9"/>
<rect x="467" y="290.92" width="1.25" height="5.88" fill="#33A02C" fill-opacity=".9"/>
<rect x="474.1" y="290.92" width="1.25" height="5.88" fill="#1F78B4" fill-opacity=".9"/>
<rect x="476.1" y="290.92" width="1.25" height="5.88" fill="#B2DF8A" fill-opacity=".9"/>
<rect x="483.8" y="290.92" width="1.25" height="5.88" fill="#B2DF8A" fill-opacity=".9"/>
<path d="M320.4 323.2H329M324.7 321.6V324.8" stroke="#A6CEE3" stroke-width="0.9" fill="none"/>
<text x="333.5" y="325.3" font-size="6" fill="#222">Cluster1</text>
<path d="M366.2 323.2H374.8M370.5 321.6V324.8" stroke="#1F78B4" stroke-width="0.9" fill="none"/>
<text x="379.3" y="325.3" font-size="6" fill="#222">Cluster2</text>
<path d="M414 323.2H422.6M418.3 321.6V324.8" stroke="#B2DF8A" stroke-width="0.9" fill="none"/>
<text x="427.1" y="325.3" font-size="6" fill="#222">Cluster3</text>
<path d="M461.9 323.2H470.5M466.2 321.6V324.8" stroke="#33A02C" stroke-width="0.9" fill="none"/>
<text x="475" y="325.3" font-size="6" fill="#222">Cluster4</text>
</g>
<g id="panelC">
<text x="4.6" y="342.5" font-size="10.6" fill="#111" stroke="#111" stroke-width="0.2">C</text>
<text x="26.6" y="431.2" font-size="5.9" fill="#222" text-anchor="end">0.00</text>
<text x="26.6" y="412.75" font-size="5.9" fill="#222" text-anchor="end">0.25</text>
<text x="26.6" y="394.3" font-size="5.9" fill="#222" text-anchor="end">0.50</text>
<text x="26.6" y="375.85" font-size="5.9" fill="#222" text-anchor="end">0.75</text>
<text x="26.6" y="357.4" font-size="5.9" fill="#222" text-anchor="end">1.00</text>
<path d="M27.6 429.1H30.2M27.6 410.65H30.2M27.6 392.2H30.2M27.6 373.75H30.2M27.6 355.3H30.2" stroke="#333" stroke-width="0.7" fill="none"/>
<text x="12.5" y="392.3" font-size="8" fill="#111" text-anchor="middle" transform="rotate(-90 12.5 392.3)">PSI</text>
<rect x="30.2" y="352.6" width="55.5" height="80.2" fill="#fff" stroke="#222" stroke-width="1"/>
<rect x="30.2" y="340.5" width="55.5" height="12.1" fill="#e9e9e9" stroke="#222" stroke-width="1"/>
<path d="M29.7 352.6H86.2" stroke="#222" stroke-width="1.5"/>
<text x="57.95" y="349.7" font-size="8.2" fill="#1a1a1a" text-anchor="middle">ANK3_AP</text>
<text x="57.1" y="360.2" font-size="7.8" fill="#111" text-anchor="middle">****</text>
<path d="M37.6 357.4V378.2M37.6 411.3V429.1" stroke="#A6CEE3" stroke-width="1.15" fill="none"/>
<rect x="33.9" y="378.2" width="7.4" height="33.1" fill="#fff" stroke="#A6CEE3" stroke-width="1.1"/>
<path d="M33.9 393H41.3" stroke="#A6CEE3" stroke-width="1.7" fill="none"/>
<path d="M50.9 355.8V377.7M50.9 404.2V429" stroke="#1F78B4" stroke-width="1.15" fill="none"/>
<rect x="47.2" y="377.7" width="7.4" height="26.5" fill="#fff" stroke="#1F78B4" stroke-width="1.1"/>
<path d="M47.2 393.5H54.6" stroke="#1F78B4" stroke-width="1.7" fill="none"/>
<path d="M64.3 356.6V373.6M64.3 403.1V429" stroke="#B2DF8A" stroke-width="1.15" fill="none"/>
<rect x="60.6" y="373.6" width="7.4" height="29.5" fill="#fff" stroke="#B2DF8A" stroke-width="1.1"/>
<path d="M60.6 384.6H68" stroke="#B2DF8A" stroke-width="1.7" fill="none"/>
<path d="M77.6 367.5V397.3M77.6 418.9V429" stroke="#33A02C" stroke-width="1.15" fill="none"/>
<rect x="73.9" y="397.3" width="7.4" height="21.6" fill="#fff" stroke="#33A02C" stroke-width="1.1"/>
<path d="M73.9 410.5H81.3" stroke="#33A02C" stroke-width="1.7" fill="none"/>
<circle cx="77.6" cy="358.4" r="1.35" fill="#33A02C"/>
<circle cx="77.6" cy="362.5" r="1.35" fill="#33A02C"/>
<circle cx="77.6" cy="366" r="1.35" fill="#33A02C"/>
<rect x="92.2" y="352.6" width="55.5" height="80.2" fill="#fff" stroke="#222" stroke-width="1"/>
<rect x="92.2" y="340.5" width="55.5" height="12.1" fill="#e9e9e9" stroke="#222" stroke-width="1"/>
<path d="M91.7 352.6H148.2" stroke="#222" stroke-width="1.5"/>
<text x="119.95" y="349.7" font-size="8.2" fill="#1a1a1a" text-anchor="middle">CLIC5_AT</text>
<text x="119.1" y="360.2" font-size="7.8" fill="#111" text-anchor="middle">****</text>
<path d="M99.6 356.6V362.5M99.6 371.1V384.6" stroke="#A6CEE3" stroke-width="1.15" fill="none"/>
<rect x="95.9" y="362.5" width="7.4" height="8.6" fill="#fff" stroke="#A6CEE3" stroke-width="1.1"/>
<path d="M95.9 366H103.3" stroke="#A6CEE3" stroke-width="1.7" fill="none"/>
<circle cx="99.6" cy="385.8" r="1.35" fill="#A6CEE3"/>
<circle cx="99.6" cy="386.7" r="1.35" fill="#A6CEE3"/>
<circle cx="99.6" cy="387.6" r="1.35" fill="#A6CEE3"/>
<circle cx="99.6" cy="388.5" r="1.35" fill="#A6CEE3"/>
<circle cx="99.6" cy="389.4" r="1.35" fill="#A6CEE3"/>
<circle cx="99.6" cy="390.3" r="1.35" fill="#A6CEE3"/>
<circle cx="99.6" cy="391.2" r="1.35" fill="#A6CEE3"/>
<circle cx="99.6" cy="392.1" r="1.35" fill="#A6CEE3"/>
<circle cx="99.6" cy="393" r="1.35" fill="#A6CEE3"/>
<circle cx="99.6" cy="393.9" r="1.35" fill="#A6CEE3"/>
<circle cx="99.6" cy="394.8" r="1.35" fill="#A6CEE3"/>
<circle cx="99.6" cy="395.7" r="1.35" fill="#A6CEE3"/>
<circle cx="99.6" cy="396.6" r="1.35" fill="#A6CEE3"/>
<circle cx="99.6" cy="397.5" r="1.35" fill="#A6CEE3"/>
<circle cx="99.6" cy="398.4" r="1.35" fill="#A6CEE3"/>
<circle cx="99.6" cy="399.3" r="1.35" fill="#A6CEE3"/>
<path d="M112.9 363V375.2M112.9 400.6V429" stroke="#1F78B4" stroke-width="1.15" fill="none"/>
<rect x="109.2" y="375.2" width="7.4" height="25.4" fill="#fff" stroke="#1F78B4" stroke-width="1.1"/>
<path d="M109.2 386.6H116.6" stroke="#1F78B4" stroke-width="1.7" fill="none"/>
<path d="M126.3 356.6V363M126.3 370.6V382" stroke="#B2DF8A" stroke-width="1.15" fill="none"/>
<rect x="122.6" y="363" width="7.4" height="7.6" fill="#fff" stroke="#B2DF8A" stroke-width="1.1"/>
<path d="M122.6 366H130" stroke="#B2DF8A" stroke-width="1.7" fill="none"/>
<circle cx="126.3" cy="384.6" r="1.35" fill="#B2DF8A"/>
<circle cx="126.3" cy="386.4" r="1.35" fill="#B2DF8A"/>
<circle cx="126.3" cy="388.2" r="1.35" fill="#B2DF8A"/>
<circle cx="126.3" cy="390.2" r="1.35" fill="#B2DF8A"/>
<circle cx="126.3" cy="392.4" r="1.35" fill="#B2DF8A"/>
<circle cx="126.3" cy="394.2" r="1.35" fill="#B2DF8A"/>
<circle cx="126.3" cy="396" r="1.35" fill="#B2DF8A"/>
<path d="M139.6 356.6V368M139.6 385.9V411.3" stroke="#33A02C" stroke-width="1.15" fill="none"/>
<rect x="135.9" y="368" width="7.4" height="17.9" fill="#fff" stroke="#33A02C" stroke-width="1.1"/>
<path d="M135.9 374.4H143.3" stroke="#33A02C" stroke-width="1.7" fill="none"/>
<circle cx="139.6" cy="414.3" r="1.35" fill="#33A02C"/>
<circle cx="139.6" cy="415.6" r="1.35" fill="#33A02C"/>
<circle cx="139.6" cy="416.9" r="1.35" fill="#33A02C"/>
<circle cx="139.6" cy="418.4" r="1.35" fill="#33A02C"/>
<circle cx="139.6" cy="423.5" r="1.35" fill="#33A02C"/>
<rect x="154.1" y="352.6" width="55.5" height="80.2" fill="#fff" stroke="#222" stroke-width="1"/>
<rect x="154.1" y="340.5" width="55.5" height="12.1" fill="#e9e9e9" stroke="#222" stroke-width="1"/>
<path d="M153.6 352.6H210.1" stroke="#222" stroke-width="1.5"/>
<text x="181.85" y="349.7" font-size="8.2" fill="#1a1a1a" text-anchor="middle">MAGED2_AP</text>
<text x="181" y="360.2" font-size="7.8" fill="#111" text-anchor="middle">****</text>
<path d="M161.5 363V375.2M161.5 391.4V415.1" stroke="#A6CEE3" stroke-width="1.15" fill="none"/>
<rect x="157.8" y="375.2" width="7.4" height="16.2" fill="#fff" stroke="#A6CEE3" stroke-width="1.1"/>
<path d="M157.8 381.5H165.2" stroke="#A6CEE3" stroke-width="1.7" fill="none"/>
<circle cx="161.5" cy="416.4" r="1.35" fill="#A6CEE3"/>
<circle cx="161.5" cy="417.3" r="1.35" fill="#A6CEE3"/>
<circle cx="161.5" cy="418.2" r="1.35" fill="#A6CEE3"/>
<circle cx="161.5" cy="419.1" r="1.35" fill="#A6CEE3"/>
<circle cx="161.5" cy="420" r="1.35" fill="#A6CEE3"/>
<circle cx="161.5" cy="420.9" r="1.35" fill="#A6CEE3"/>
<circle cx="161.5" cy="421.8" r="1.35" fill="#A6CEE3"/>
<circle cx="161.5" cy="422.7" r="1.35" fill="#A6CEE3"/>
<circle cx="161.5" cy="423.6" r="1.35" fill="#A6CEE3"/>
<circle cx="161.5" cy="424.5" r="1.35" fill="#A6CEE3"/>
<circle cx="161.5" cy="425.4" r="1.35" fill="#A6CEE3"/>
<circle cx="161.5" cy="426.3" r="1.35" fill="#A6CEE3"/>
<circle cx="161.5" cy="427.2" r="1.35" fill="#A6CEE3"/>
<path d="M174.8 360.4V376.2M174.8 394.8V421.5" stroke="#1F78B4" stroke-width="1.15" fill="none"/>
<rect x="171.1" y="376.2" width="7.4" height="18.6" fill="#fff" stroke="#1F78B4" stroke-width="1.1"/>
<path d="M171.1 384.6H178.5" stroke="#1F78B4" stroke-width="1.7" fill="none"/>
<circle cx="174.8" cy="424" r="1.35" fill="#1F78B4"/>
<circle cx="174.8" cy="425.2" r="1.35" fill="#1F78B4"/>
<circle cx="174.8" cy="426.2" r="1.35" fill="#1F78B4"/>
<path d="M188.2 364.2V374.4M188.2 390.4V411.3" stroke="#B2DF8A" stroke-width="1.15" fill="none"/>
<rect x="184.5" y="374.4" width="7.4" height="16" fill="#fff" stroke="#B2DF8A" stroke-width="1.1"/>
<path d="M184.5 381.3H191.9" stroke="#B2DF8A" stroke-width="1.7" fill="none"/>
<circle cx="188.2" cy="414.3" r="1.35" fill="#B2DF8A"/>
<circle cx="188.2" cy="418.4" r="1.35" fill="#B2DF8A"/>
<circle cx="188.2" cy="420.2" r="1.35" fill="#B2DF8A"/>
<circle cx="188.2" cy="421.8" r="1.35" fill="#B2DF8A"/>
<circle cx="188.2" cy="423.4" r="1.35" fill="#B2DF8A"/>
<circle cx="188.2" cy="425" r="1.35" fill="#B2DF8A"/>
<circle cx="188.2" cy="426.4" r="1.35" fill="#B2DF8A"/>
<path d="M201.5 363.5V389.7M201.5 408.7V424" stroke="#33A02C" stroke-width="1.15" fill="none"/>
<rect x="197.8" y="389.7" width="7.4" height="19" fill="#fff" stroke="#33A02C" stroke-width="1.1"/>
<path d="M197.8 399.8H205.2" stroke="#33A02C" stroke-width="1.7" fill="none"/>
<rect x="215.9" y="352.6" width="55.5" height="80.2" fill="#fff" stroke="#222" stroke-width="1"/>
<rect x="215.9" y="340.5" width="55.5" height="12.1" fill="#e9e9e9" stroke="#222" stroke-width="1"/>
<path d="M215.4 352.6H271.9" stroke="#222" stroke-width="1.5"/>
<text x="243.65" y="349.7" font-size="8.2" fill="#1a1a1a" text-anchor="middle">PKIB_AP</text>
<text x="242.8" y="360.2" font-size="7.8" fill="#111" text-anchor="middle">****</text>
<path d="M223.3 359.8V380.8M223.3 412.3V428.9" stroke="#A6CEE3" stroke-width="1.15" fill="none"/>
<rect x="219.6" y="380.8" width="7.4" height="31.5" fill="#fff" stroke="#A6CEE3" stroke-width="1.1"/>
<path d="M219.6 396.1H227" stroke="#A6CEE3" stroke-width="1.7" fill="none"/>
<path d="M236.6 360.8V374.1M236.6 405.3V428.9" stroke="#1F78B4" stroke-width="1.15" fill="none"/>
<rect x="232.9" y="374.1" width="7.4" height="31.2" fill="#fff" stroke="#1F78B4" stroke-width="1.1"/>
<path d="M232.9 392.3H240.3" stroke="#1F78B4" stroke-width="1.7" fill="none"/>
<path d="M250 358.9V374.1M250 405.3V428.9" stroke="#B2DF8A" stroke-width="1.15" fill="none"/>
<rect x="246.3" y="374.1" width="7.4" height="31.2" fill="#fff" stroke="#B2DF8A" stroke-width="1.1"/>
<path d="M246.3 386H253.7" stroke="#B2DF8A" stroke-width="1.7" fill="none"/>
<path d="M263.3 381.8V406.6M263.3 424.2V428.9" stroke="#33A02C" stroke-width="1.15" fill="none"/>
<rect x="259.6" y="406.6" width="7.4" height="17.6" fill="#fff" stroke="#33A02C" stroke-width="1.1"/>
<path d="M259.6 418H267" stroke="#33A02C" stroke-width="1.7" fill="none"/>
<circle cx="263.3" cy="365.2" r="1.35" fill="#33A02C"/>
<circle cx="263.3" cy="371.3" r="1.35" fill="#33A02C"/>
<circle cx="263.3" cy="376.6" r="1.35" fill="#33A02C"/>
<circle cx="263.3" cy="378.2" r="1.35" fill="#33A02C"/>
<circle cx="263.3" cy="379.6" r="1.35" fill="#33A02C"/>
<circle cx="263.3" cy="380.8" r="1.35" fill="#33A02C"/>
<text x="26.6" y="530.4" font-size="5.9" fill="#222" text-anchor="end">0.00</text>
<text x="26.6" y="511.97" font-size="5.9" fill="#222" text-anchor="end">0.25</text>
<text x="26.6" y="493.55" font-size="5.9" fill="#222" text-anchor="end">0.50</text>
<text x="26.6" y="475.12" font-size="5.9" fill="#222" text-anchor="end">0.75</text>
<text x="26.6" y="456.7" font-size="5.9" fill="#222" text-anchor="end">1.00</text>
<path d="M27.6 528.3H30.2M27.6 509.87H30.2M27.6 491.45H30.2M27.6 473.02H30.2M27.6 454.6H30.2" stroke="#333" stroke-width="0.7" fill="none"/>
<text x="12.5" y="491.25" font-size="8" fill="#111" text-anchor="middle" transform="rotate(-90 12.5 491.25)">PSI</text>
<rect x="30.2" y="451.8" width="55.5" height="79.7" fill="#fff" stroke="#222" stroke-width="1"/>
<rect x="30.2" y="439.6" width="55.5" height="12.2" fill="#e9e9e9" stroke="#222" stroke-width="1"/>
<path d="M29.7 451.8H86.2" stroke="#222" stroke-width="1.5"/>
<text x="57.95" y="448.8" font-size="8.2" fill="#1a1a1a" text-anchor="middle">RNF165_AT</text>
<text x="57.1" y="459.4" font-size="7.8" fill="#111" text-anchor="middle">****</text>
<path d="M37.6 455.3V471.4M37.6 494.8V520.9" stroke="#A6CEE3" stroke-width="1.15" fill="none"/>
<rect x="33.9" y="471.4" width="7.4" height="23.4" fill="#fff" stroke="#A6CEE3" stroke-width="1.1"/>
<path d="M33.9 481.3H41.3" stroke="#A6CEE3" stroke-width="1.7" fill="none"/>
<path d="M50.9 454.6V479.5M50.9 501.9V523.5" stroke="#1F78B4" stroke-width="1.15" fill="none"/>
<rect x="47.2" y="479.5" width="7.4" height="22.4" fill="#fff" stroke="#1F78B4" stroke-width="1.1"/>
<path d="M47.2 490.4H54.6" stroke="#1F78B4" stroke-width="1.7" fill="none"/>
<path d="M64.3 455.3V468.1M64.3 485.9V511.3" stroke="#B2DF8A" stroke-width="1.15" fill="none"/>
<rect x="60.6" y="468.1" width="7.4" height="17.8" fill="#fff" stroke="#B2DF8A" stroke-width="1.1"/>
<path d="M60.6 475.7H68" stroke="#B2DF8A" stroke-width="1.7" fill="none"/>
<path d="M77.6 457.4V478.2M77.6 507.5V524.5" stroke="#33A02C" stroke-width="1.15" fill="none"/>
<rect x="73.9" y="478.2" width="7.4" height="29.3" fill="#fff" stroke="#33A02C" stroke-width="1.1"/>
<path d="M73.9 490.9H81.3" stroke="#33A02C" stroke-width="1.7" fill="none"/>
<rect x="92.2" y="451.8" width="55.5" height="79.7" fill="#fff" stroke="#222" stroke-width="1"/>
<rect x="92.2" y="439.6" width="55.5" height="12.2" fill="#e9e9e9" stroke="#222" stroke-width="1"/>
<path d="M91.7 451.8H148.2" stroke="#222" stroke-width="1.5"/>
<text x="119.95" y="448.8" font-size="8.2" fill="#1a1a1a" text-anchor="middle">SH3BP1_AT</text>
<text x="119.1" y="459.4" font-size="7.8" fill="#111" text-anchor="middle">****</text>
<path d="M99.6 460.4V470.6M99.6 483.3V499.8" stroke="#A6CEE3" stroke-width="1.15" fill="none"/>
<rect x="95.9" y="470.6" width="7.4" height="12.7" fill="#fff" stroke="#A6CEE3" stroke-width="1.1"/>
<path d="M95.9 477H103.3" stroke="#A6CEE3" stroke-width="1.7" fill="none"/>
<path d="M112.9 472.6V485.3M112.9 500.3V518.4" stroke="#1F78B4" stroke-width="1.15" fill="none"/>
<rect x="109.2" y="485.3" width="7.4" height="15" fill="#fff" stroke="#1F78B4" stroke-width="1.1"/>
<path d="M109.2 492.2H116.6" stroke="#1F78B4" stroke-width="1.7" fill="none"/>
<path d="M126.3 461.7V473.6M126.3 484.1V496" stroke="#B2DF8A" stroke-width="1.15" fill="none"/>
<rect x="122.6" y="473.6" width="7.4" height="10.5" fill="#fff" stroke="#B2DF8A" stroke-width="1.1"/>
<path d="M122.6 477.7H130" stroke="#B2DF8A" stroke-width="1.7" fill="none"/>
<circle cx="126.3" cy="500.6" r="1.35" fill="#B2DF8A"/>
<path d="M139.6 463V475.2M139.6 490.4V512.5" stroke="#33A02C" stroke-width="1.15" fill="none"/>
<rect x="135.9" y="475.2" width="7.4" height="15.2" fill="#fff" stroke="#33A02C" stroke-width="1.1"/>
<path d="M135.9 482H143.3" stroke="#33A02C" stroke-width="1.7" fill="none"/>
<rect x="154.1" y="451.8" width="55.5" height="79.7" fill="#fff" stroke="#222" stroke-width="1"/>
<rect x="154.1" y="439.6" width="55.5" height="12.2" fill="#e9e9e9" stroke="#222" stroke-width="1"/>
<path d="M153.6 451.8H210.1" stroke="#222" stroke-width="1.5"/>
<text x="181.85" y="448.8" font-size="8.2" fill="#1a1a1a" text-anchor="middle">TRPM2_ES</text>
<text x="181" y="459.4" font-size="7.8" fill="#111" text-anchor="middle">****</text>
<path d="M161.5 456.6V464.2M161.5 483.8V507.5" stroke="#A6CEE3" stroke-width="1.15" fill="none"/>
<rect x="157.8" y="464.2" width="7.4" height="19.6" fill="#fff" stroke="#A6CEE3" stroke-width="1.1"/>
<path d="M157.8 475.2H165.2" stroke="#A6CEE3" stroke-width="1.7" fill="none"/>
<path d="M174.8 456.6V462.5M174.8 486.6V516.4" stroke="#1F78B4" stroke-width="1.15" fill="none"/>
<rect x="171.1" y="462.5" width="7.4" height="24.1" fill="#fff" stroke="#1F78B4" stroke-width="1.1"/>
<path d="M171.1 474.9H178.5" stroke="#1F78B4" stroke-width="1.7" fill="none"/>
<path d="M188.2 456.6V466M188.2 480.3V500.6" stroke="#B2DF8A" stroke-width="1.15" fill="none"/>
<rect x="184.5" y="466" width="7.4" height="14.3" fill="#fff" stroke="#B2DF8A" stroke-width="1.1"/>
<path d="M184.5 473.6H191.9" stroke="#B2DF8A" stroke-width="1.7" fill="none"/>
<circle cx="188.2" cy="507.5" r="1.35" fill="#B2DF8A"/>
<circle cx="188.2" cy="510" r="1.35" fill="#B2DF8A"/>
<path d="M201.5 456.6V480.8M201.5 501.1V526.5" stroke="#33A02C" stroke-width="1.15" fill="none"/>
<rect x="197.8" y="480.8" width="7.4" height="20.3" fill="#fff" stroke="#33A02C" stroke-width="1.1"/>
<path d="M197.8 491.4H205.2" stroke="#33A02C" stroke-width="1.7" fill="none"/>
<rect x="215.9" y="451.8" width="55.5" height="79.7" fill="#fff" stroke="#222" stroke-width="1"/>
<rect x="215.9" y="439.6" width="55.5" height="12.2" fill="#e9e9e9" stroke="#222" stroke-width="1"/>
<path d="M215.4 451.8H271.9" stroke="#222" stroke-width="1.5"/>
<text x="243.65" y="448.8" font-size="8.2" fill="#1a1a1a" text-anchor="middle">TTC39C_AT</text>
<text x="242.8" y="459.4" font-size="7.8" fill="#111" text-anchor="middle">****</text>
<path d="M223.3 482.1V495.7M223.3 505.7V517.7" stroke="#A6CEE3" stroke-width="1.15" fill="none"/>
<rect x="219.6" y="495.7" width="7.4" height="10" fill="#fff" stroke="#A6CEE3" stroke-width="1.1"/>
<path d="M219.6 500.9H227" stroke="#A6CEE3" stroke-width="1.7" fill="none"/>
<circle cx="223.3" cy="475.8" r="1.35" fill="#A6CEE3"/>
<circle cx="223.3" cy="478.3" r="1.35" fill="#A6CEE3"/>
<circle cx="223.3" cy="521.2" r="1.35" fill="#A6CEE3"/>
<path d="M236.6 466.4V481M236.6 493.6V507.2" stroke="#1F78B4" stroke-width="1.15" fill="none"/>
<rect x="232.9" y="481" width="7.4" height="12.6" fill="#fff" stroke="#1F78B4" stroke-width="1.1"/>
<path d="M232.9 487.3H240.3" stroke="#1F78B4" stroke-width="1.7" fill="none"/>
<path d="M250 482.1V495.3M250 503V514.5" stroke="#B2DF8A" stroke-width="1.15" fill="none"/>
<rect x="246.3" y="495.3" width="7.4" height="7.7" fill="#fff" stroke="#B2DF8A" stroke-width="1.1"/>
<path d="M246.3 499.5H253.7" stroke="#B2DF8A" stroke-width="1.7" fill="none"/>
<circle cx="250" cy="480" r="1.35" fill="#B2DF8A"/>
<path d="M263.3 471.6V485.9M263.3 497.2V512.4" stroke="#33A02C" stroke-width="1.15" fill="none"/>
<rect x="259.6" y="485.9" width="7.4" height="11.3" fill="#fff" stroke="#33A02C" stroke-width="1.1"/>
<path d="M259.6 491.5H267" stroke="#33A02C" stroke-width="1.7" fill="none"/>
<path d="M73.8 535.8V545" stroke="#A6CEE3" stroke-width="0.9"/>
<rect x="70.1" y="537.8" width="7.4" height="5.2" fill="#fff" stroke="#A6CEE3" stroke-width="1"/>
<path d="M70.1 540.4H77.5" stroke="#A6CEE3" stroke-width="1.4"/>
<text x="82.5" y="542.7" font-size="6.5" fill="#222">Cluster1</text>
<path d="M114.9 535.8V545" stroke="#1F78B4" stroke-width="0.9"/>
<rect x="111.2" y="537.8" width="7.4" height="5.2" fill="#fff" stroke="#1F78B4" stroke-width="1"/>
<path d="M111.2 540.4H118.6" stroke="#1F78B4" stroke-width="1.4"/>
<text x="123.6" y="542.7" font-size="6.5" fill="#222">Cluster2</text>
<path d="M155.8 535.8V545" stroke="#B2DF8A" stroke-width="0.9"/>
<rect x="152.1" y="537.8" width="7.4" height="5.2" fill="#fff" stroke="#B2DF8A" stroke-width="1"/>
<path d="M152.1 540.4H159.5" stroke="#B2DF8A" stroke-width="1.4"/>
<text x="164.5" y="542.7" font-size="6.5" fill="#222">Cluster3</text>
<path d="M196.3 535.8V545" stroke="#33A02C" stroke-width="0.9"/>
<rect x="192.6" y="537.8" width="7.4" height="5.2" fill="#fff" stroke="#33A02C" stroke-width="1"/>
<path d="M192.6 540.4H200" stroke="#33A02C" stroke-width="1.4"/>
<text x="205" y="542.7" font-size="6.5" fill="#222">Cluster4</text>
</g>
<g id="panelD">
<text x="278.3" y="342.6" font-size="10.1" fill="#111" stroke="#111" stroke-width="0.2">D</text>
<rect x="303.3" y="342.8" width="94.5" height="187.6" fill="#fff" stroke="#262626" stroke-width="1"/>
<text x="300.9" y="368.1" font-size="5.7" fill="#222" text-anchor="end">3000</text>
<text x="300.9" y="401.2" font-size="5.7" fill="#222" text-anchor="end">2000</text>
<text x="300.9" y="434.2" font-size="5.7" fill="#222" text-anchor="end">1000</text>
<text x="300.9" y="467.3" font-size="5.7" fill="#222" text-anchor="end">0</text>
<text x="300.9" y="500.3" font-size="5.7" fill="#222" text-anchor="end">−1000</text>
<path d="M301.2 366H303.3M301.2 399.1H303.3M301.2 432.1H303.3M301.2 465.2H303.3M301.2 498.2H303.3" stroke="#333" stroke-width="0.7" fill="none"/>
<text x="286" y="428.6" font-size="8.4" fill="#111" text-anchor="middle" transform="rotate(-90 286 428.6)">Immune score</text>
<text x="395" y="350.6" font-size="8.3" fill="#111" text-anchor="end"><tspan font-style="italic">p</tspan> &lt; 0.0001</text>
<path d="M317.5 402.4V449.1M317.5 482.1V516.4" stroke="#2f2f2f" stroke-width="1" fill="none"/>
<rect x="308.6" y="449.1" width="16.8" height="33" fill="#A6CEE3" stroke="#2f2f2f" stroke-width="1"/>
<path d="M308.6 465.6H325.4" stroke="#2f2f2f" stroke-width="2" fill="none"/>
<circle cx="317.5" cy="378.7" r="1.15" fill="#111"/>
<circle cx="317.5" cy="387.9" r="1.15" fill="#111"/>
<circle cx="317.5" cy="393.5" r="1.15" fill="#111"/>
<circle cx="317.5" cy="396" r="1.15" fill="#111"/>
<path d="M339.5 372.6V432.3M339.5 472V503.7" stroke="#2f2f2f" stroke-width="1" fill="none"/>
<rect x="331" y="432.3" width="17" height="39.7" fill="#1F78B4" stroke="#2f2f2f" stroke-width="1"/>
<path d="M331 455.4H348" stroke="#2f2f2f" stroke-width="2" fill="none"/>
<circle cx="339.5" cy="351.5" r="1.15" fill="#111"/>
<path d="M362.5 402.4V447.8M362.5 477.5V511.9" stroke="#2f2f2f" stroke-width="1" fill="none"/>
<rect x="353.9" y="447.8" width="16.5" height="29.7" fill="#B2DF8A" stroke="#2f2f2f" stroke-width="1"/>
<path d="M353.9 464.8H370.4" stroke="#2f2f2f" stroke-width="2" fill="none"/>
<circle cx="362.5" cy="374.4" r="1.15" fill="#111"/>
<circle cx="362.5" cy="377" r="1.15" fill="#111"/>
<circle cx="362.5" cy="381.3" r="1.15" fill="#111"/>
<circle cx="362.5" cy="389.7" r="1.15" fill="#111"/>
<circle cx="362.5" cy="392.2" r="1.15" fill="#111"/>
<circle cx="362.5" cy="394.8" r="1.15" fill="#111"/>
<circle cx="362.5" cy="401.6" r="1.15" fill="#111"/>
<path d="M384.5 372.6V434.3M384.5 475.8V521.5" stroke="#2f2f2f" stroke-width="1" fill="none"/>
<rect x="376.3" y="434.3" width="17" height="41.5" fill="#33A02C" stroke="#2f2f2f" stroke-width="1"/>
<path d="M376.3 455.4H393.3" stroke="#2f2f2f" stroke-width="2" fill="none"/>
<circle cx="384.5" cy="367.5" r="1.15" fill="#111"/>
<rect x="430.2" y="342.8" width="94.4" height="187.6" fill="#fff" stroke="#262626" stroke-width="1"/>
<text x="427.8" y="355.3" font-size="5.7" fill="#222" text-anchor="end">2000</text>
<text x="427.8" y="395.7" font-size="5.7" fill="#222" text-anchor="end">1000</text>
<text x="427.8" y="436.1" font-size="5.7" fill="#222" text-anchor="end">0</text>
<text x="427.8" y="476.6" font-size="5.7" fill="#222" text-anchor="end">−1000</text>
<text x="427.8" y="517.2" font-size="5.7" fill="#222" text-anchor="end">−2000</text>
<path d="M428.1 353.2H430.2M428.1 393.6H430.2M428.1 434H430.2M428.1 474.5H430.2M428.1 515.1H430.2" stroke="#333" stroke-width="0.7" fill="none"/>
<text x="412.5" y="430.2" font-size="8.4" fill="#111" text-anchor="middle" transform="rotate(-90 412.5 430.2)">Stromal score</text>
<text x="521.2" y="350.6" font-size="8.3" fill="#111" text-anchor="end"><tspan font-style="italic">p</tspan> &lt; 0.0001</text>
<path d="M443.5 352.3V396.8M443.5 436.8V492.3" stroke="#2f2f2f" stroke-width="1" fill="none"/>
<rect x="434.9" y="396.8" width="17" height="40" fill="#A6CEE3" stroke="#2f2f2f" stroke-width="1"/>
<path d="M434.9 413.8H451.9" stroke="#2f2f2f" stroke-width="2" fill="none"/>
<circle cx="443.5" cy="522.3" r="1.15" fill="#111"/>
<path d="M466.5 359.2V405.7M466.5 441.4V489.8" stroke="#2f2f2f" stroke-width="1" fill="none"/>
<rect x="457.8" y="405.7" width="16.5" height="35.7" fill="#1F78B4" stroke="#2f2f2f" stroke-width="1"/>
<path d="M457.8 424H474.3" stroke="#2f2f2f" stroke-width="2" fill="none"/>
<circle cx="466.5" cy="496.6" r="1.15" fill="#111"/>
<circle cx="466.5" cy="499.2" r="1.15" fill="#111"/>
<path d="M488.5 350.8V396.8M488.5 433.5V484.7" stroke="#2f2f2f" stroke-width="1" fill="none"/>
<rect x="479.9" y="396.8" width="17" height="36.7" fill="#B2DF8A" stroke="#2f2f2f" stroke-width="1"/>
<path d="M479.9 412H496.9" stroke="#2f2f2f" stroke-width="2" fill="none"/>
<path d="M511.5 352.8V410M511.5 455.4V493.1" stroke="#2f2f2f" stroke-width="1" fill="none"/>
<rect x="502.8" y="410" width="16.5" height="45.4" fill="#33A02C" stroke="#2f2f2f" stroke-width="1"/>
<path d="M502.8 433.4H519.3" stroke="#2f2f2f" stroke-width="2" fill="none"/>
<path d="M326.8 535.8V544.6" stroke="#2f2f2f" stroke-width="0.8"/>
<rect x="322.7" y="537.5" width="8.2" height="5.4" fill="#A6CEE3" stroke="#2f2f2f" stroke-width="0.8"/>
<path d="M322.7 540.2H330.9" stroke="#2f2f2f" stroke-width="1.1"/>
<text x="336.1" y="542.4" font-size="6.3" fill="#222">Cluster1</text>
<path d="M372.6 535.8V544.6" stroke="#2f2f2f" stroke-width="0.8"/>
<rect x="368.5" y="537.5" width="8.2" height="5.4" fill="#1F78B4" stroke="#2f2f2f" stroke-width="0.8"/>
<path d="M368.5 540.2H376.7" stroke="#2f2f2f" stroke-width="1.1"/>
<text x="381.9" y="542.4" font-size="6.3" fill="#222">Cluster2</text>
<path d="M419.9 535.8V544.6" stroke="#2f2f2f" stroke-width="0.8"/>
<rect x="415.8" y="537.5" width="8.2" height="5.4" fill="#B2DF8A" stroke="#2f2f2f" stroke-width="0.8"/>
<path d="M415.8 540.2H424" stroke="#2f2f2f" stroke-width="1.1"/>
<text x="429.2" y="542.4" font-size="6.3" fill="#222">Cluster3</text>
<path d="M466.3 535.8V544.6" stroke="#2f2f2f" stroke-width="0.8"/>
<rect x="462.2" y="537.5" width="8.2" height="5.4" fill="#33A02C" stroke="#2f2f2f" stroke-width="0.8"/>
<path d="M462.2 540.2H470.4" stroke="#2f2f2f" stroke-width="1.1"/>
<text x="475.6" y="542.4" font-size="6.3" fill="#222">Cluster4</text>
</g>
</svg>
</body></html>
